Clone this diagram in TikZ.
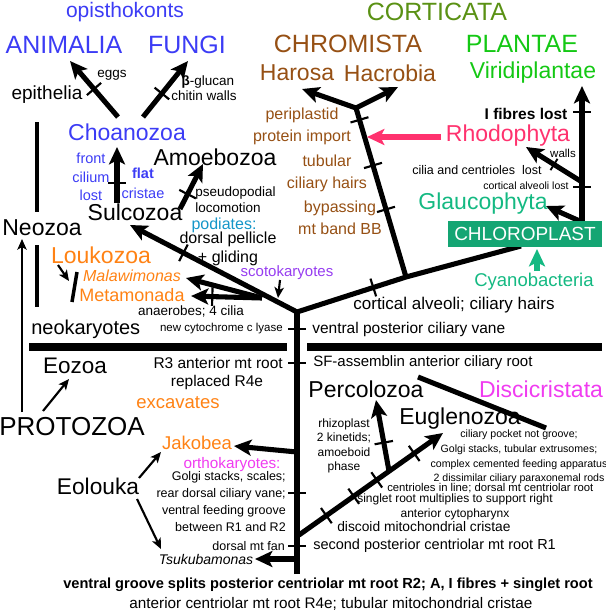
\documentclass[tikz,border=0pt]{standalone}
\usepackage{fontspec}
\setmainfont{Liberation Sans}
\usetikzlibrary{arrows.meta}
\newcommand\px[1]{\fontsize{\fpeval{#1*0.75}pt}{\fpeval{#1*0.9}pt}\selectfont}
\definecolor{cblue}{RGB}{60,60,245}
\definecolor{colive}{RGB}{90,145,20}
\definecolor{cbrown}{RGB}{150,80,20}
\definecolor{cgreen}{RGB}{20,200,20}
\definecolor{cpink}{RGB}{255,50,110}
\definecolor{cteal}{RGB}{20,185,130}
\definecolor{cbox}{RGB}{20,165,115}
\definecolor{corange}{RGB}{255,130,20}
\definecolor{cmag}{RGB}{240,60,240}
\definecolor{cpurple}{RGB}{150,60,240}
\definecolor{ccyan}{RGB}{20,150,200}
\tikzset{
 lb/.style={inner sep=0, align=center},
 huge/.style={lb, font=\px{25}},
 big/.style={lb, font=\px{23}},
 mid/.style={lb, font=\px{18}},
 med/.style={lb, font=\px{16}},
 sm/.style={lb, font=\px{13.5}},
 xs/.style={lb, font=\px{11.5}},
 br/.style={line width=3.8pt, -{Stealth[length=13pt,width=12pt,inset=3pt]}},
 ln/.style={line width=3.8pt},
 thin/.style={line width=1.6pt, -{Stealth[length=8pt,width=7pt,inset=2pt]}},
 tk/.style={sloped, fill=black, inner sep=0, minimum width=1.6pt, minimum height=14pt},
}
\begin{document}
\begin{tikzpicture}[x=0.75pt,y=-0.75pt]
\useasboundingbox (0,0) rectangle (606,612);
% ---------- coordinates ----------
\coordinate (J) at (297,312);
\coordinate (B) at (297,574);
\coordinate (jak0) at (297,452); \coordinate (jak1) at (234,446);
\coordinate (tsu0) at (297,559); \coordinate (tsu1) at (255,559);
\coordinate (eu0) at (299,535); \coordinate (eu1) at (443,433);
\coordinate (pe0) at (389,471); \coordinate (pe1) at (376,400);
\coordinate (di0) at (418,377); \coordinate (di1) at (546,428);
\coordinate (su1) at (130,225);
\coordinate (C1) at (406,277); \coordinate (C2) at (521,246);
\coordinate (C3) at (356,108);
\coordinate (har) at (302,89); \coordinate (hac) at (398,87);
\coordinate (pl0) at (582,222); \coordinate (pl1) at (582,86);
\coordinate (rh0) at (582,182); \coordinate (rh1) at (526,147);
\coordinate (gl1) at (546,206);
\coordinate (pk0) at (441,137); \coordinate (pk1) at (367,137);
\coordinate (cy0) at (537,271); \coordinate (cy1) at (537,249);
\coordinate (me0) at (262,298); \coordinate (ma1) at (186,278); \coordinate (me1) at (191,296);
\coordinate (sc0) at (280,280); \coordinate (sc1) at (278,298);
\coordinate (an0) at (118,117); \coordinate (an1) at (70,61);
\coordinate (fu0) at (143,117); \coordinate (fu1) at (188,61);
\coordinate (ch0) at (117,203); \coordinate (ch1) at (117,147);
\coordinate (am0) at (180,209); \coordinate (am1) at (203,164);
\coordinate (nz0) at (37,122); \coordinate (nz1) at (37,212);
\coordinate (nz2) at (37,245); \coordinate (nz3) at (37,307);
\coordinate (pr0) at (22,412); \coordinate (pr1) at (22,239);
\coordinate (eo0) at (43,411); \coordinate (eo1) at (69,379);
\coordinate (lk0) at (58,265); \coordinate (lk1) at (69,281);
\coordinate (sl0) at (77,272); \coordinate (sl1) at (72,302);
\coordinate (ba0) at (29,347); \coordinate (ba1) at (287,347);
\coordinate (ba2) at (307,347); \coordinate (ba3) at (602,347);
\coordinate (el0) at (139,478); \coordinate (el1) at (161,452);
\coordinate (el2) at (137,499); \coordinate (el3) at (161,549);
% ---------- branches ----------
\draw[ln] (B) -- (J)
  node[tk,pos=0.935]{} node[tk,pos=0.805]{} node[tk,pos=0.31]{} node[tk,pos=0.107]{};
\draw[br] (jak0) -- (jak1);
\draw[br] (tsu0) -- (tsu1);
\draw[br] (eu0) -- (eu1) node[tk,pos=0.19]{} node[tk,pos=0.38]{} node[tk,pos=0.54]{} node[tk,pos=0.80]{};
\draw[br] (pe0) -- (pe1) node[tk,pos=0.4]{};
\draw[ln] (di0) -- (di1);
\draw[br] (J) -- (su1) node[tk,pos=0.68]{};
\draw[ln, line join=round] (J) -- (C1) node[tk,pos=0.7]{} -- (C2);
\draw[ln] (C1) -- (C3) node[tk,pos=0.40]{} node[tk,pos=0.66]{} node[tk,pos=0.93]{};
\draw[br] (C3) -- (har);
\draw[br] (C3) -- (hac);
\draw[br] (pl0) -- (pl1) node[tk,pos=0.26]{} node[tk,pos=0.81]{};
\draw[br] (rh0) -- (rh1) node[tk,pos=0.5,minimum height=10pt,minimum width=1.4pt]{};
\draw[br] (pl0) -- (gl1);
\draw[br, cpink] (pk0) -- (pk1);
\draw[br, cteal] (cy0) -- (cy1);
\draw[br] (me0) -- (ma1);
\draw[br] (me0) -- (me1) node[tk,pos=0.7]{};
\draw[thin] (sc0) -- (sc1);
\draw[br] (an0) -- (an1) node[tk,pos=0.5]{};
\draw[br] (fu0) -- (fu1) node[tk,pos=0.42]{};
\draw[br] (ch0) -- (ch1) node[tk,pos=0.35]{};
\draw[br] (am0) -- (am1) node[tk,pos=0.33]{};
\draw[line width=3pt] (nz0) -- (nz1);
\draw[line width=3pt] (nz2) -- (nz3);
\draw[thin] (pr0) -- (pr1);
\draw[thin] (eo0) -- (eo1);
\draw[thin] (lk0) -- (lk1);
\draw[line width=2.6pt] (sl0) -- (sl1);
\draw[line width=6pt] (ba0) -- (ba1);
\draw[line width=6pt] (ba2) -- (ba3);
\draw[thin] (el0) -- (el1);
\draw[thin] (el2) -- (el3);
% ---------- box ----------
\node[fill=cbox, text=white, font=\px{19}, minimum width=115.5pt, minimum height=19pt, inner sep=0] (chl) at (525,234) {CHLOROPLAST};
% ---------- top labels ----------
\node[lb, font=\px{21}, text=cblue] (opi) at (125,12) {opisthokonts};
\node[huge, text=cblue] (ani) at (64,45) {ANIMALIA};
\node[huge, text=cblue] (fun) at (187,45) {FUNGI};
\node[huge, text=colive] (cor) at (437,12) {CORTICATA};
\node[huge, text=cbrown] (chr) at (348,44) {CHROMISTA};
\node[huge, text=cgreen] (pla) at (522,44) {PLANTAE};
\node[big, text=cbrown] (haro) at (297,73) {Harosa};
\node[big, text=cbrown] (hacr) at (390,73) {Hacrobia};
\node[big, text=cgreen] (vir) at (533,73) {Viridiplantae};
\node[sm] (egg) at (112,75) {eggs};
\node[lb, font=\px{19}] (epi) at (47,95) {epithelia};
\node[sm] (glu) at (208,82) {\textbf{β}-glucan};
\node[sm] (chi) at (204,96) {chitin walls};
\node[big, text=cblue] (cho) at (127,132) {Choanozoa};
\node[lb, font=\px{14.5}, text=cblue] (fro) at (91,177) {front\\[1pt]cilium\\[1pt]lost};
\node[lb, font=\px{14.5}, text=cblue] (fla) at (143,183) {\textbf{flat}\\[2pt]cristae};
\node[big] (amo) at (215,157) {Amoebozoa};
\node[sm, align=left, anchor=west] (pse) at (195,200) {pseudopodial\\locomotion};
\node[big] (sul) at (135,212) {Sulcozoa};
\node[med, text=ccyan] (pod) at (224,225) {podiates:};
\node[med] (dor) at (228,249) {dorsal pellicle\\+ gliding};
\node[big] (neo) at (42,228) {Neozoa};
\node[big, text=corange] (lou) at (101,255) {Loukozoa};
\node[med, text=corange, font=\px{16}\itshape] (mal) at (132,276) {Malawimonas};
\node[lb, font=\px{18}, text=corange] (met) at (132,295) {Metamonada};
\node[sm] (ana) at (191,311) {anaerobes; 4 cilia};
\node[lb, font=\px{15}, text=cpurple] (sco) at (287,273) {scotokaryotes};
\node[lb, font=\px{17}] (cal) at (454,305) {cortical alveoli; ciliary hairs};
\node[med, text=cbrown] (per) at (302,126) {periplastid\\[2pt]protein import};
\node[med, text=cbrown] (tub) at (327,173) {tubular\\[2pt]ciliary hairs};
\node[med, text=cbrown] (byp) at (340,218) {bypassing\\[2pt]mt band BB};
\node[big, text=cpink] (rho) at (508,136) {Rhodophyta};
\node[lb, font=\px{15.5}\bfseries] (ifl) at (526,114) {I fibres lost};
\node[xs] (wal) at (563,153) {walls};
\node[lb, font=\px{12.5}] (cil) at (477,170) {cilia and centrioles\ \ lost};
\node[lb, font=\px{10.5}] (cal2) at (526,186) {cortical alveoli lost};
\node[big, text=cteal] (gla) at (483,204) {Glaucophyta};
\node[lb, font=\px{18.5}, text=cteal] (cya) at (534,282) {Cyanobacteria};
% ---------- lower labels ----------
\node[lb, font=\px{20}, anchor=west] (nko) at (31,329) {neokaryotes};
\node[xs, anchor=east] (ncy) at (283,329) {new cytochrome c lyase};
\node[lb, font=\px{15.5}, anchor=west] (vpc) at (312,329) {ventral posterior ciliary vane};
\node[lb, font=\px{22.5}] (eoz) at (75,366) {Eozoa};
\node[lb, font=\px{15.5}, anchor=east] (r3) at (283,363) {R3 anterior mt root};
\node[lb, font=\px{15.5}] (r4) at (217,382) {replaced R4e};
\node[lb, font=\px{15}, anchor=west] (sfa) at (313,363) {SF-assemblin anterior ciliary root};
\node[lb, font=\px{18.5}, text=corange] (exc) at (178,403) {excavates};
\node[lb, font=\px{26}] (pro) at (72,427) {PROTOZOA};
\node[big] (pco) at (366,389) {Percolozoa};
\node[big, text=cmag] (dis) at (541,389) {Discicristata};
\node[big] (eug) at (460,419) {Euglenozoa};
\node[lb, font=\px{18.5}, text=corange] (jak) at (197,443) {Jakobea};
\node[lb, font=\px{12}] (rhi) at (344,446) {rhizoplast\\2 kinetids;\\amoeboid\\phase};
\node[lb, font=\px{10.6}] (cpn) at (519,457) {ciliary pocket not groove;\\[1.5pt]Golgi stacks, tubular extrusomes;\\[1.5pt]complex cemented feeding apparatus\\[1.5pt]2 dissimilar ciliary paraxonemal rods};
\node[lb, font=\px{11.3}, anchor=west] (cen) at (387,488) {centrioles in line; dorsal mt centriolar root};
\node[lb, font=\px{12}] (sin) at (455,507) {singlet root multiplies to support right\\anterior cytopharynx};
\node[lb, font=\px{13.8}, anchor=west] (dmc) at (337,527) {discoid mitochondrial cristae};
\node[lb, font=\px{15.3}, text=cmag] (ort) at (232,465) {orthokaryotes:};
\node[lb, font=\px{12.5}, align=right, anchor=north east] (gol) at (286,471) {Golgi stacks, scales;\\[1.5pt]rear dorsal ciliary vane;\\[1.5pt]ventral feeding groove\\[1.5pt]between R1 and R2};
\node[lb, font=\px{22.7}] (eol) at (98,486) {Eolouka};
\node[lb, font=\px{12.5}, anchor=east] (dmf) at (285,546) {dorsal mt fan};
\node[lb, font=\px{14.5}, anchor=west] (spc) at (313,546) {second posterior centriolar mt root R1};
\node[lb, font=\px{14}\itshape] (tsu) at (206,559) {Tsukubamonas};
\node[lb, font=\px{14.6}\bfseries] (vgs) at (328,585) {ventral groove splits posterior centriolar mt root R2; A, I fibres + singlet root};
\node[lb, font=\px{15.3}] (acm) at (331,604) {anterior centriolar mt root R4e; tubular mitochondrial cristae};
\end{tikzpicture}
\end{document}
